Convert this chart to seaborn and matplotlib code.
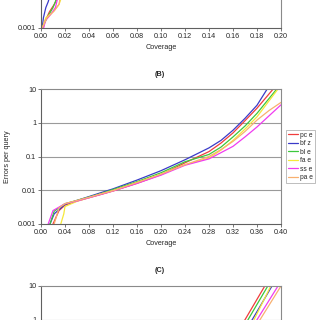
import numpy as np
import pandas as pd
import seaborn as sns
import matplotlib.pyplot as plt

# series names / colours
names = ["pc e", "bf z", "bl e", "fa e", "ss e", "pa e"]
colors = ["#f03c3c", "#3a3ac8", "#3cc83c", "#f5e83a", "#f03cf0", "#f8b070"]

# panel (A) - only the bottom part is visible
a_cov = {
    "pc e": [0.002, 0.003, 0.007, 0.011, 0.014],
    "bf z": [0.001, 0.002, 0.004, 0.006, 0.007],
    "bl e": [0.001, 0.005, 0.010, 0.012, 0.013],
    "fa e": [0.001, 0.004, 0.010, 0.015, 0.017],
    "ss e": [0.002, 0.004, 0.008, 0.012, 0.014],
    "pa e": [0.001, 0.005, 0.011, 0.015, 0.016],
}
a_err = {
    "pc e": [0.001, 0.0015, 0.003, 0.005, 0.008],
    "bf z": [0.001, 0.002, 0.004, 0.006, 0.008],
    "bl e": [0.001, 0.002, 0.004, 0.006, 0.008],
    "fa e": [0.001, 0.002, 0.003, 0.005, 0.008],
    "ss e": [0.001, 0.0017, 0.0025, 0.004, 0.008],
    "pa e": [0.001, 0.002, 0.0032, 0.005, 0.008],
}

# panel (B)
b_cov_common = [0.04, 0.06, 0.08, 0.10, 0.12, 0.16, 0.20, 0.24, 0.28, 0.30, 0.32, 0.34, 0.36]
b_cov = {
    "pc e": [0.020, 0.030] + b_cov_common + [0.387],
    "bf z": [0.015, 0.022] + b_cov_common + [0.377],
    "bl e": [0.015, 0.022] + b_cov_common + [0.393],
    "fa e": [0.033, 0.038] + b_cov_common + [0.395],
    "ss e": [0.012, 0.020] + b_cov_common + [0.38, 0.40],
    "pa e": [0.022, 0.030] + b_cov_common + [0.38, 0.40],
}
b_err = {
    "pc e": [0.001, 0.0025, 0.0036, 0.0048, 0.006, 0.0075, 0.0095, 0.016, 0.029, 0.065, 0.14, 0.25, 0.5, 1.15, 2.7, 10],
    "bf z": [0.001, 0.002, 0.0038, 0.005, 0.0065, 0.0085, 0.011, 0.02, 0.038, 0.08, 0.18, 0.3, 0.6, 1.35, 3.3, 10],
    "bl e": [0.001, 0.0024, 0.004, 0.005, 0.0063, 0.008, 0.0105, 0.018, 0.033, 0.07, 0.115, 0.19, 0.38, 0.8, 1.9, 10],
    "fa e": [0.001, 0.002, 0.0033, 0.0047, 0.006, 0.0078, 0.0098, 0.017, 0.03, 0.057, 0.09, 0.155, 0.3, 0.65, 1.5, 10],
    "ss e": [0.001, 0.0025, 0.004, 0.0048, 0.006, 0.0076, 0.0095, 0.016, 0.028, 0.055, 0.085, 0.13, 0.2, 0.38, 0.75, 1.6, 3.4],
    "pa e": [0.001, 0.003, 0.004, 0.005, 0.0062, 0.0078, 0.0097, 0.017, 0.03, 0.057, 0.1, 0.16, 0.28, 0.55, 1.2, 2.3, 4.0],
}

# panel (C) - only the top part is visible
c_cov = {
    "pc e": [0.30, 0.340, 0.373],
    "bf z": [0.31, 0.352, 0.385],
    "bl e": [0.31, 0.345, 0.378],
    "fa e": [0.32, 0.355, 0.383],
    "ss e": [0.33, 0.360, 0.395],
    "pa e": [0.33, 0.365, 0.400],
}
c_err = {
    "pc e": [0.1, 1, 10],
    "bf z": [0.1, 1, 10],
    "bl e": [0.1, 1, 10],
    "fa e": [0.1, 1, 10],
    "ss e": [0.1, 1, 10],
    "pa e": [0.1, 1, 10],
}

y_ticks = [0.001, 0.01, 0.1, 1, 10]
y_labels = ["0.001", "0.01", "0.1", "1", "10"]


def long_df(cov, err):
    rows = []
    for n in names:
        for c, e in zip(cov[n], err[n]):
            rows.append((n, c, e))
    return pd.DataFrame(rows, columns=["series", "Coverage", "Errors"])


sns.set_style("white")
plt.rcParams["font.family"] = ["Liberation Sans", "DejaVu Sans"]
plt.rcParams["font.size"] = 5.2

fig = plt.figure(figsize=(3.2, 3.2), dpi=100)
L, W, H = 41 / 320, 240 / 320, 135 / 320
ax_a = fig.add_axes([L, 1 - 28 / 320, W, H])
ax_b = fig.add_axes([L, 1 - 224 / 320, W, H])
ax_c = fig.add_axes([L, 1 - 286 / 320 - H, W, H])

palette = dict(zip(names, colors))


def style(ax, xmax, xstep, show_y, show_x):
    ax.set_yscale("log")
    ax.set_ylim(0.001, 10)
    ax.set_xlim(0, xmax)
    ax.set_yticks(y_ticks)
    ax.set_yticklabels([l if l in show_y else "" for l in y_labels])
    ax.minorticks_off()
    ticks = np.round(np.arange(0, xmax + 1e-9, xstep), 2)
    ax.set_xticks(ticks)
    ax.set_xticklabels([f"{t:.2f}" if show_x else "" for t in ticks])
    for v in [0.01, 0.1, 1]:
        ax.axhline(v, color="#9a9a9a", lw=0.8, zorder=0)
    for s in ["left", "bottom"]:
        ax.spines[s].set_color("#606060")
        ax.spines[s].set_linewidth(0.8)
    for s in ["top", "right"]:
        ax.spines[s].set_color("#8a8a8a")
        ax.spines[s].set_linewidth(0.8)
    ax.tick_params(axis="both", length=2, width=0.6, color="#606060", pad=1.5, labelsize=5.2, direction="out")
    ax.tick_params(axis="x", bottom=True)
    ax.tick_params(axis="y", left=True)
    ax.set_xlabel("")
    ax.set_ylabel("")


for ax, cov, err, xmax, xstep, show_y, show_x in [
    (ax_a, a_cov, a_err, 0.20, 0.02, ["0.001"], True),
    (ax_b, b_cov, b_err, 0.40, 0.04, y_labels, True),
    (ax_c, c_cov, c_err, 0.40, 0.04, ["10", "1"], False),
]:
    sns.lineplot(data=long_df(cov, err), x="Coverage", y="Errors", hue="series",
                 hue_order=names, palette=palette, lw=0.9, errorbar=None,
                 legend=(ax is ax_b), ax=ax)
    style(ax, xmax, xstep, show_y, show_x)

ax_b.set_ylabel("Errors per query", fontsize=5.2, labelpad=5)
ax_a.set_xlabel("Coverage", fontsize=5.2, labelpad=3)
ax_b.set_xlabel("Coverage", fontsize=5.2, labelpad=3)

leg = ax_b.legend(loc="center left", bbox_to_anchor=(1.005, 0.5), frameon=True,
                  fontsize=4.8, handlelength=1.6, handletextpad=0.3,
                  borderpad=0.3, labelspacing=0.22, fancybox=False)
leg.get_frame().set_edgecolor("#a0a0a0")
leg.get_frame().set_linewidth(0.6)

fig.text(160 / 320, 1 - 74 / 320, "(B)", ha="center", va="center", fontsize=5.2, fontweight="bold")
fig.text(160 / 320, 1 - 270 / 320, "(C)", ha="center", va="center", fontsize=5.2, fontweight="bold")

fig.savefig("out.png", dpi=100)
